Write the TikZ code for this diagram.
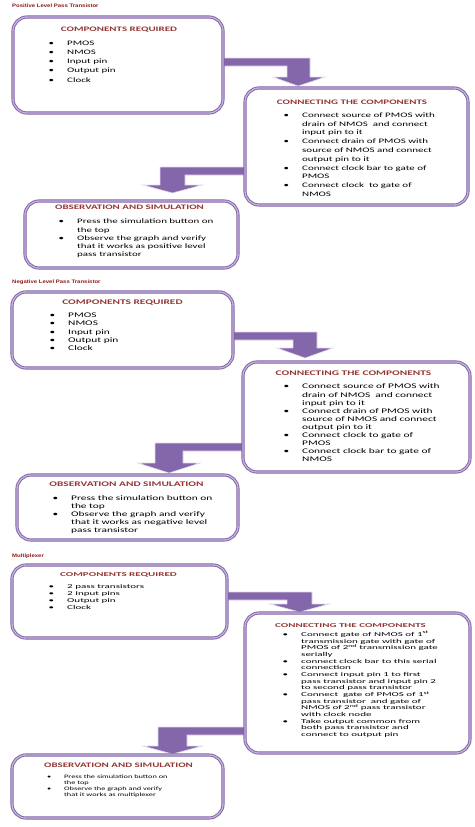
\documentclass[tikz,border=0pt]{standalone}
\usepackage{fontspec}
\usetikzlibrary{backgrounds}
\newfontfamily\bodyfont[FakeStretch=1.6]{Carlito}
\newfontfamily\bodyfontc[FakeStretch=1.85]{Carlito}
\newfontfamily\titlefont[FakeStretch=1.2]{Liberation Sans}
\definecolor{boxpurple}{HTML}{7F62A6}
\definecolor{boxlight}{HTML}{C3B2DA}
\definecolor{arrowfill}{HTML}{8466AA}
\definecolor{arrowedge}{HTML}{E3DCEE}
\definecolor{headred}{HTML}{943634}
\definecolor{titlered}{HTML}{8E1B1B}
\newcommand\bul{\leavevmode\llap{\textbullet\hspace{13pt}}}
\newcommand\fl{\rule{0pt}{6pt}}
\begin{document}
\begin{tikzpicture}[x=1pt,y=-1pt,
 panel/.style={draw=boxpurple, double=boxlight, double distance=1.3pt, line width=0.9pt, rounded corners=14pt, inner sep=0pt, fill=white},
 arrowshape/.style={fill=arrowfill, draw=arrowedge, line width=0.6pt},
 head/.style={text=headred, inner sep=0pt, anchor=base},
 items/.style={align=left, anchor=north west, inner sep=0pt, text=black},
 sectitle/.style={text=titlered, inner sep=0pt, anchor=base west, font=\titlefont\bfseries\fontsize{5}{6}\selectfont}]
\useasboundingbox (0,0) rectangle (474,827);

% ---------- Section 1 ----------
\node[sectitle] (t1) at (12,8) {Positive Level Pass Transistor};
\node[panel, minimum width=210pt, minimum height=96pt] (b1) at (118,65) {};
\node[panel, minimum width=223pt, minimum height=117pt] (b2) at (356.5,146.5) {};
\node[panel, minimum width=213pt, minimum height=67pt] (b3) at (131.5,234.5) {};

\node[head, font=\bodyfont\bfseries\fontsize{6.85}{8}\selectfont] (h1) at (119,31.2) {COMPONENTS REQUIRED};
\node[items, font=\bodyfont\fontsize{6.85}{9.2}\selectfont] (l1) at (67,39) {\fl\bul PMOS\\ \bul NMOS\\ \bul Input pin\\ \bul Output pin\\ \bul Clock};

\node[head, font=\bodyfont\bfseries\fontsize{6.85}{8}\selectfont] (h2) at (352,104.2) {CONNECTING THE COMPONENTS};
\node[items, font=\bodyfont\fontsize{6.85}{8.8}\selectfont] (l2) at (302,111) {\fl\bul Connect source of PMOS with\\ drain of NMOS\ \ and connect\\ input pin to it\\ \bul Connect drain of PMOS with\\ source of NMOS and connect\\ output pin to it\\ \bul Connect clock bar to gate of\\ PMOS\\ \bul Connect clock\ \ to gate of\\ NMOS};

\node[head, font=\bodyfont\bfseries\fontsize{6.85}{8}\selectfont] (h3) at (129.5,209.9) {OBSERVATION AND SIMULATION};
\node[items, font=\bodyfont\fontsize{6.85}{8.1}\selectfont] (l3) at (77,217.7) {\fl\bul Press the simulation button on\\ the top\\ \bul Observe the graph and verify\\ that it works as positive level\\ pass transistor};

% ---------- Section 2 ----------
\node[sectitle] (t2) at (12,283) {Negative Level Pass Transistor};
\node[panel, minimum width=221pt, minimum height=76pt] (b4) at (122.5,330) {};
\node[panel, minimum width=227pt, minimum height=110pt] (b5) at (356.5,417) {};
\node[panel, minimum width=221pt, minimum height=65pt] (b6) at (127.5,507.5) {};

\node[head, font=\bodyfont\bfseries\fontsize{7.1}{8}\selectfont] (h4) at (122.5,304.5) {COMPONENTS REQUIRED};
\node[items, font=\bodyfont\fontsize{7.1}{8.35}\selectfont] (l4) at (68,311.3) {\fl\bul PMOS\\ \bul NMOS\\ \bul Input pin\\ \bul Output pin\\ \bul Clock};

\node[head, font=\bodyfont\bfseries\fontsize{7.1}{8}\selectfont] (h5) at (353.5,375.5) {CONNECTING THE COMPONENTS};
\node[items, font=\bodyfont\fontsize{7.1}{8.1}\selectfont] (l5) at (302,382.7) {\fl\bul Connect source of PMOS with\\ drain of NMOS\ \ and connect\\ input pin to it\\ \bul Connect drain of PMOS with\\ source of NMOS and connect\\ output pin to it\\ \bul Connect clock to gate of\\ PMOS\\ \bul Connect clock bar to gate of\\ NMOS};

\node[head, font=\bodyfont\bfseries\fontsize{7.1}{8}\selectfont] (h6) at (126.5,486.5) {OBSERVATION AND SIMULATION};
\node[items, font=\bodyfont\fontsize{7.1}{7.9}\selectfont] (l6) at (71,494.3) {\fl\bul Press the simulation button on\\ the top\\ \bul Observe the graph and verify\\ that it works as negative level\\ pass transistor};

% ---------- Section 3 ----------
\node[sectitle] (t3) at (12,557) {Multiplexer};
\node[panel, minimum width=215pt, minimum height=73pt] (b7) at (119.5,601.5) {};
\node[panel, minimum width=225pt, minimum height=140pt] (b8) at (357.5,683) {};
\node[panel, minimum width=211pt, minimum height=63pt] (b9) at (117.5,786.5) {};

\node[head, font=\bodyfontc\bfseries\fontsize{5.95}{7}\selectfont] (h7) at (118.5,576.3) {COMPONENTS REQUIRED};
\node[items, font=\bodyfontc\fontsize{5.95}{7}\selectfont] (l7) at (67,582.7) {\fl\bul 2 pass transistors\\ \bul 2 Input pins\\ \bul Output pin\\ \bul Clock};

\node[head, font=\bodyfontc\bfseries\fontsize{5.95}{7}\selectfont] (h8) at (350.5,627) {CONNECTING THE COMPONENTS};
\node[items, font=\bodyfontc\fontsize{5.95}{6.67}\selectfont] (l8) at (301,630.3) {\fl\bul Connect gate of NMOS of 1\textsuperscript{st}\\ transmission gate with gate of\\ PMOS of 2\textsuperscript{nd} transmission gate\\ serially\\ \bul connect clock bar to this serial\\ connection\\ \bul Connect input pin 1 to first\\ pass transistor and input pin 2\\ to second pass transistor\\ \bul Connect\ \ gate of PMOS of 1\textsuperscript{st}\\ pass transistor\ \ and gate of\\ NMOS of 2\textsuperscript{nd} pass transistor\\ with clock node\\ \bul Take output common from\\ both pass transistor and\\ connect to output pin};

\node[head, font=\bodyfont\bfseries\fontsize{6.85}{8}\selectfont] (h9) at (118.5,767) {OBSERVATION AND SIMULATION};
\node[items, font=\bodyfont\fontsize{5.2}{6.25}\selectfont] (l9) at (64,772) {\fl\bul Press the simulation button on\\ the top\\ \bul Observe the graph and verify\\ that it works as multiplexer};

% ---------- Block arrows ----------
\begin{pgfonlayer}{background}
\fill[white] (0,0) rectangle (474,827);
\draw[arrowshape] (b1.east |- 0,58) -- (310,58) -- (310,77) -- (325,77) -- (298,86) -- (273,77) -- (287,77) -- (287,66) -- (b1.east |- 0,66) -- cycle;
\draw[arrowshape] (b2.west |- 0,167) -- (160,167) -- (160,185) -- (143,185) -- (172.5,193) -- (202,185) -- (185,185) -- (185,175) -- (b2.west |- 0,175) -- cycle;
\draw[arrowshape] (b4.east |- 0,332) -- (317,332) -- (317,348) -- (333,348) -- (305,358) -- (277,348) -- (293,348) -- (293,340) -- (b4.east |- 0,340) -- cycle;
\draw[arrowshape] (b5.west |- 0,443) -- (155,443) -- (155,463) -- (138,463) -- (169,473) -- (200,463) -- (183,463) -- (183,451) -- (b5.west |- 0,451) -- cycle;
\draw[arrowshape] (b7.east |- 0,592) -- (312,592) -- (312,604) -- (329,604) -- (299.5,612) -- (270,604) -- (287,604) -- (287,600) -- (b7.east |- 0,600) -- cycle;
\draw[arrowshape] (b8.west |- 0,727) -- (158,727) -- (158,746) -- (143,746) -- (172.5,754) -- (202,746) -- (187,746) -- (187,735) -- (b8.west |- 0,735) -- cycle;
\end{pgfonlayer}
\end{tikzpicture}
\end{document}
